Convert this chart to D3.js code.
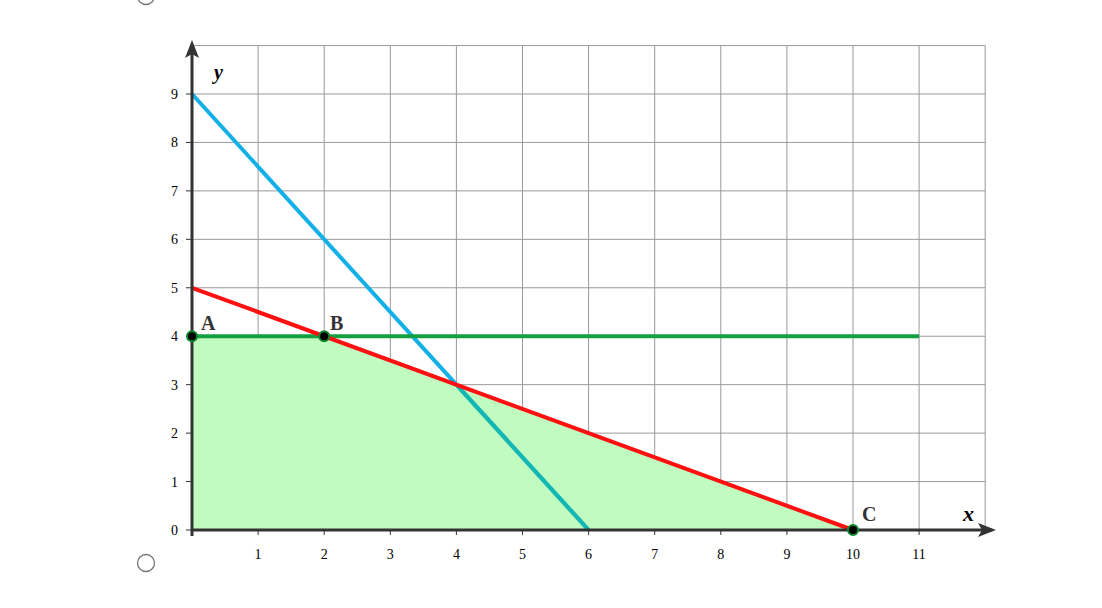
<!DOCTYPE html><html><head><meta charset="utf-8">
<script src="https://cdn.jsdelivr.net/npm/d3@7"></script>
<style>body{margin:0;background:#fff}</style></head><body>
<svg id="c" width="1102" height="608"></svg>
<script>
const xTicks=[1,2,3,4,5,6,7,8,9,10,11];
const yTicks=[0,1,2,3,4,5,6,7,8,9];
const blueLine=[[0,9],[6,0]];
const redLine=[[0,5],[10,0]];
const greenLine=[[0,4],[11,4]];
const region=[[0,0],[0,4],[2,4],[4,3],[10,0]];
const points=[{n:"A",x:0,y:4},{n:"B",x:2,y:4},{n:"C",x:10,y:0}];
const svg=d3.select("#c");
const x=d3.scaleLinear().domain([0,10]).range([192,853]);
const y=d3.scaleLinear().domain([0,9]).range([530,94]);
const g=svg.append("g");
for(let i=1;i<=12;i++)g.append("line").attr("x1",x(i)).attr("x2",x(i)).attr("y1",y(0)).attr("y2",y(10)).attr("stroke","#999").attr("stroke-width",1);
for(let j=1;j<=10;j++)g.append("line").attr("x1",x(0)).attr("x2",x(12)).attr("y1",y(j)).attr("y2",y(j)).attr("stroke","#999").attr("stroke-width",1);
const ln=d3.line().x(d=>x(d[0])).y(d=>y(d[1]));
svg.append("path").attr("d",ln(region)+"Z").attr("fill","#c0fcc0");
svg.append("path").attr("d",ln(blueLine)).attr("stroke","#12b0e8").attr("stroke-width",4).attr("fill","none");
svg.append("path").attr("d",ln([[4,3],[6,0]])).attr("stroke","#14b8b0").attr("stroke-width",4).attr("fill","none");
svg.append("path").attr("d",ln(greenLine)).attr("stroke","#14a040").attr("stroke-width",4).attr("fill","none");
svg.append("path").attr("d",ln(redLine)).attr("stroke","#ff1010").attr("stroke-width",4).attr("fill","none");
// axes
svg.append("line").attr("x1",x(0)).attr("x2",992).attr("y1",y(0)).attr("y2",y(0)).attr("stroke","#333").attr("stroke-width",3);
svg.append("line").attr("x1",x(0)).attr("x2",x(0)).attr("y1",y(0)+6).attr("y2",45).attr("stroke","#333").attr("stroke-width",3);
svg.append("path").attr("d",`M996,${y(0)} L978,${y(0)-7} L982,${y(0)} L978,${y(0)+7}Z`).attr("fill","#333");
svg.append("path").attr("d",`M${x(0)},40 L${x(0)-7},58 L${x(0)},54 L${x(0)+7},58Z`).attr("fill","#333");
const serif="Liberation Serif, Times New Roman, serif";
xTicks.forEach(t=>{svg.append("line").attr("x1",x(t)).attr("x2",x(t)).attr("y1",y(0)).attr("y2",y(0)+5).attr("stroke","#333");
 svg.append("text").attr("x",x(t)).attr("y",y(0)+29).attr("text-anchor","middle").attr("font-family",serif).attr("font-size",14).text(t);});
yTicks.forEach(t=>{svg.append("line").attr("x1",x(0)-6).attr("x2",x(0)).attr("y1",y(t)).attr("y2",y(t)).attr("stroke","#333");
 svg.append("text").attr("x",x(0)-14).attr("y",y(t)+5).attr("text-anchor","end").attr("font-family",serif).attr("font-size",14).text(t);});
svg.append("text").attr("x",214).attr("y",79).attr("font-family",serif).attr("font-size",20).attr("font-style","italic").attr("font-weight","bold").text("y");
svg.append("text").attr("x",963).attr("y",521).attr("font-family",serif).attr("font-size",22).attr("font-style","italic").attr("font-weight","bold").text("x");
points.forEach(p=>{svg.append("circle").attr("cx",x(p.x)).attr("cy",y(p.y)).attr("r",5).attr("fill","#000").attr("stroke","#0a8a2a").attr("stroke-width",2);});
const lbl={A:[201,330],B:[330,330],C:[862,521]};
points.forEach(p=>svg.append("text").attr("x",lbl[p.n][0]).attr("y",lbl[p.n][1]).attr("font-family",serif).attr("font-weight","bold").attr("font-size",20).attr("fill","#333").text(p.n));
svg.append("circle").attr("cx",146).attr("cy",563).attr("r",8.5).attr("fill","none").attr("stroke","#777").attr("stroke-width",1.3);
svg.append("circle").attr("cx",146).attr("cy",-4).attr("r",8.5).attr("fill","none").attr("stroke","#777").attr("stroke-width",1.3);
</script></body></html>
